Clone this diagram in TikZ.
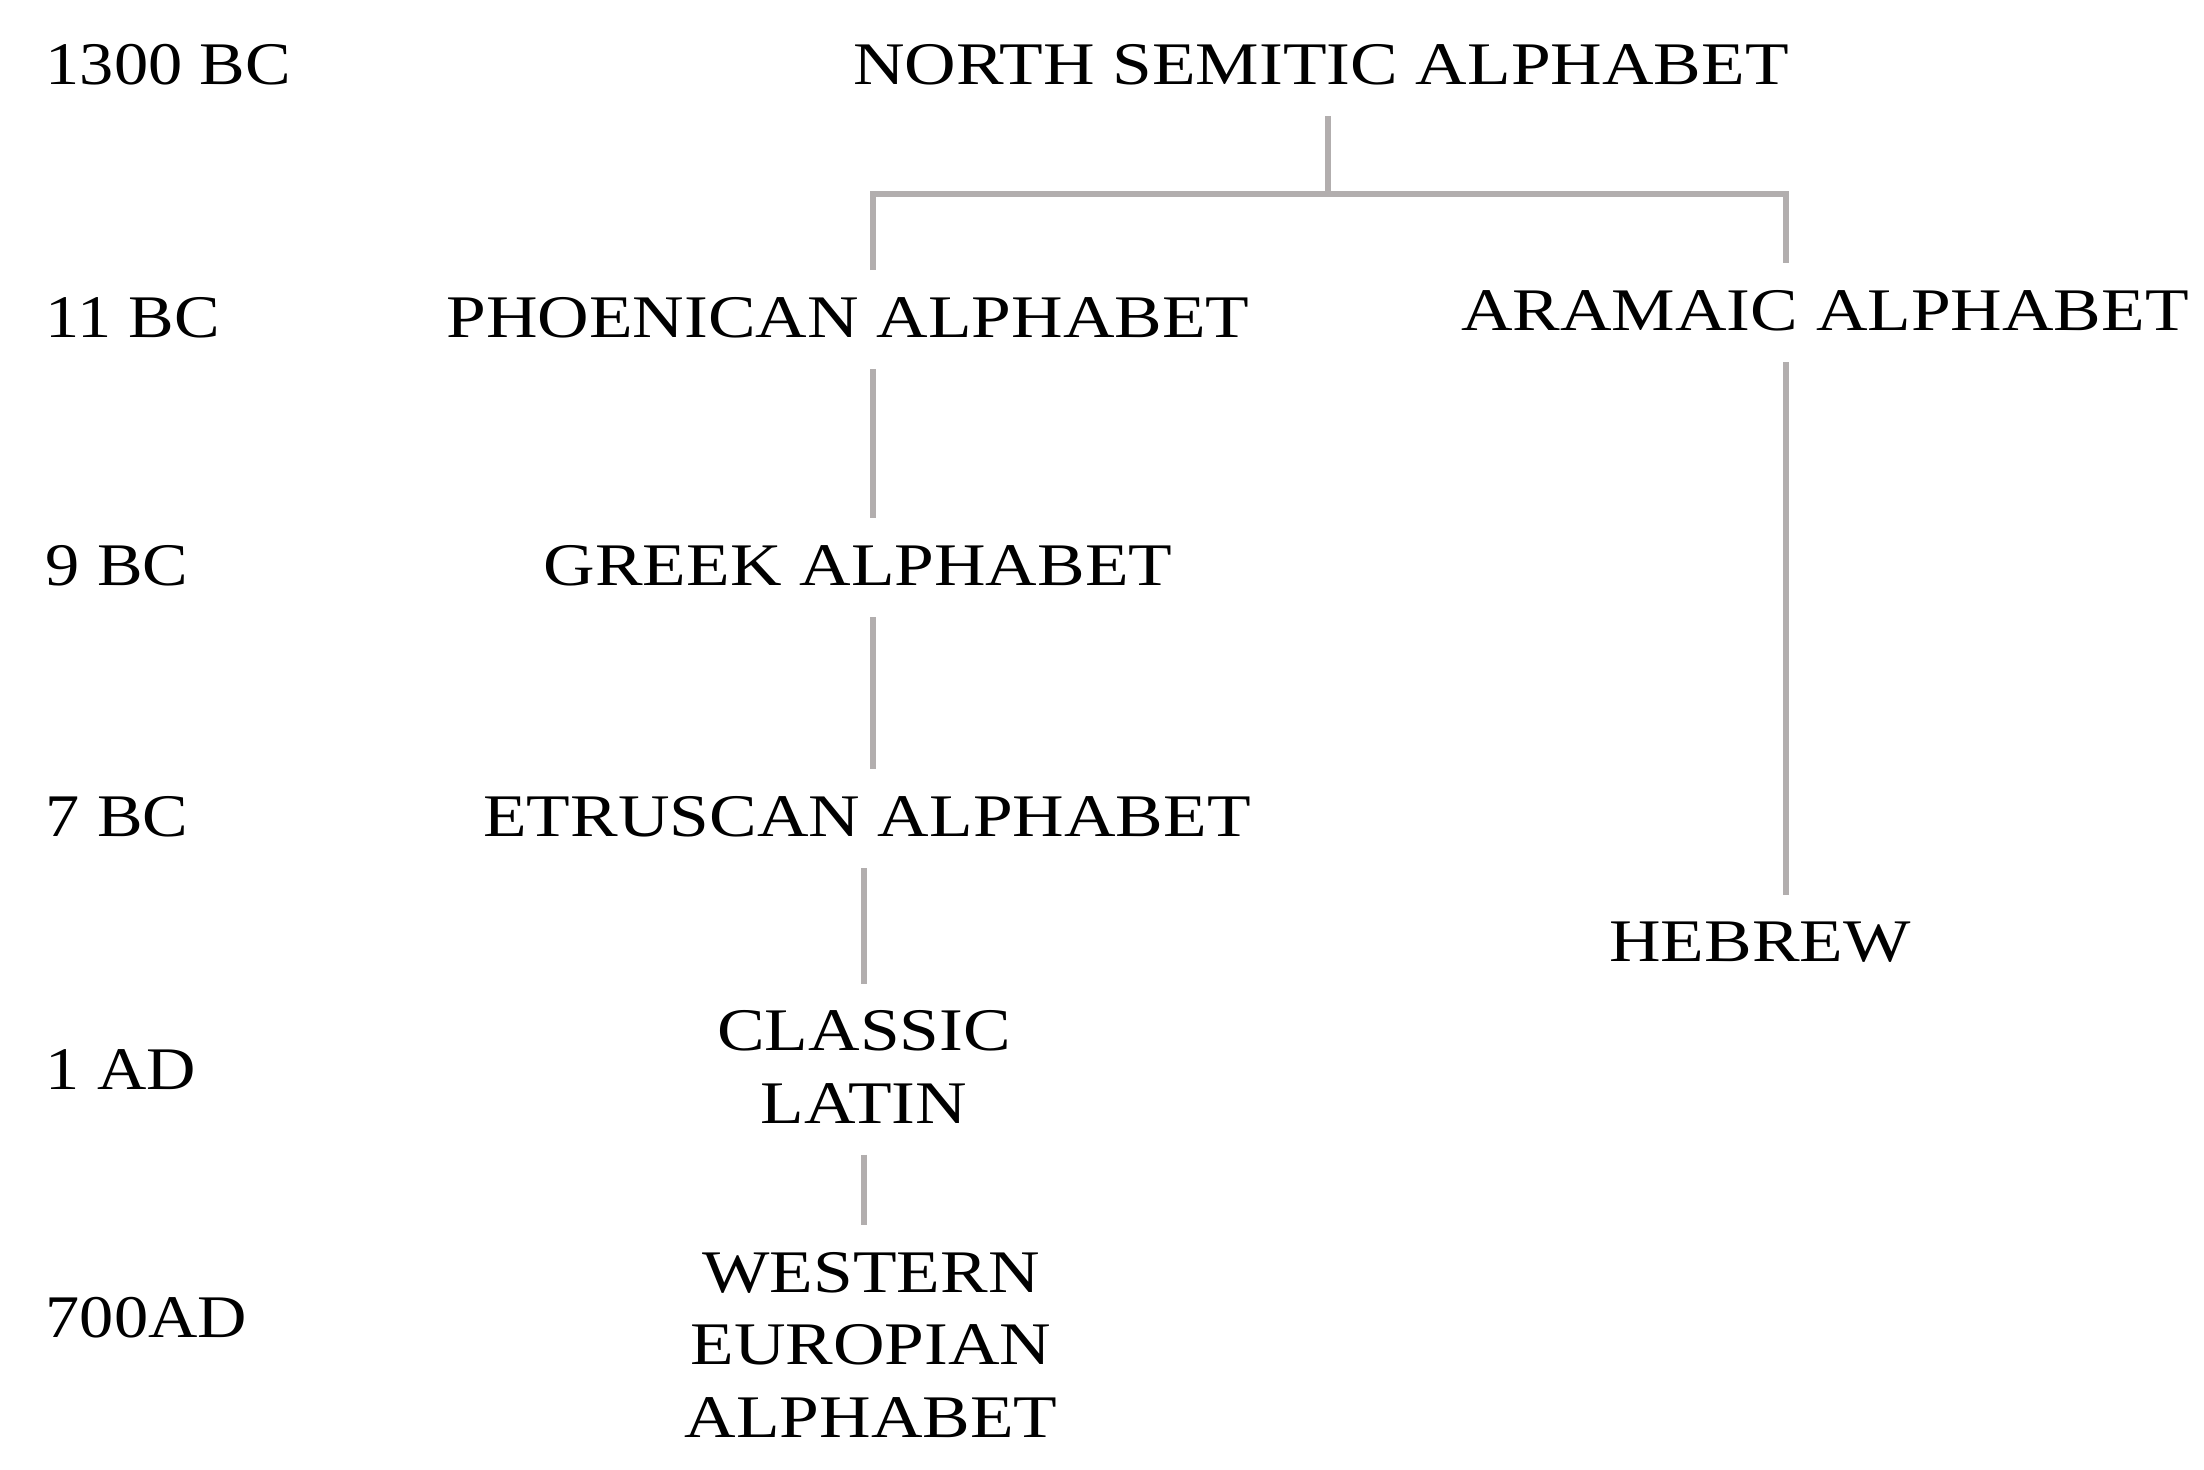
\documentclass[tikz,border=0pt]{standalone}
\usepackage{fontspec}
\setmainfont{Liberation Serif}
\definecolor{stemgray}{RGB}{178,174,174}

\begin{document}
\begin{tikzpicture}[x=0.01cm,y=-0.01cm,
  era/.style={anchor=base west,inner sep=0pt,font=\fontsize{17.2}{20.6}\selectfont,xscale=1.13,transform shape},
  script/.style={anchor=base,inner xsep=0pt,inner ysep=7.4pt,align=center,font=\fontsize{17.2}{20.6}\selectfont,xscale=1.18,transform shape},
  stem/.style={draw=stemgray,line width=1.7pt},
  link/.style={stem,shorten <=1.4pt}]
\useasboundingbox (0,0) rectangle (2204,1469);
% time column
\node[era] (e1300) at (45,84) {1300 BC};
\node[era] (e11) at (45,337) {11 BC};
\node[era] (e9) at (45,585) {9 BC};
\node[era] (e7) at (45,836) {7 BC};
\node[era] (e1) at (45,1089) {1 AD};
\node[era] (e700) at (45,1337) {700AD};
% scripts (base = last line)
\node[script] (north) at (1321,84) {NORTH SEMITIC ALPHABET};
\node[script] (phoen) at (848,337) {PHOENICAN ALPHABET};
\node[script] (aram) at (1825,330) {ARAMAIC ALPHABET};
\node[script] (greek) at (858,585) {GREEK ALPHABET};
\node[script] (etrus) at (867,836) {ETRUSCAN ALPHABET};
\node[script] (hebrew) at (1760,961) {HEBREW};
\node[script] (latin) at (864,1123) {CLASSIC\\LATIN};
\node[script] (western) at (871,1437) {WESTERN\\EUROPIAN\\ALPHABET};
\coordinate (fork) at (1328,194);
\coordinate (forkl) at (873,194);
\coordinate (forkr) at (1786,194);
% branches
\draw[link] (north.south -| fork) -- (fork);
\draw[stem] (phoen.north -| forkl) |- (fork) -| (aram.north -| forkr);
\draw[link] (phoen.south -| forkl) -- (greek.north -| forkl);
\draw[link] (greek.south -| forkl) -- (etrus.north -| forkl);
\draw[link] (etrus.south -| latin.north) -- (latin.north);
\draw[link] (latin.south) -- (latin.south |- western.north);
\draw[link] (aram.south -| forkr) -- (hebrew.north -| forkr);
\end{tikzpicture}
\end{document}
